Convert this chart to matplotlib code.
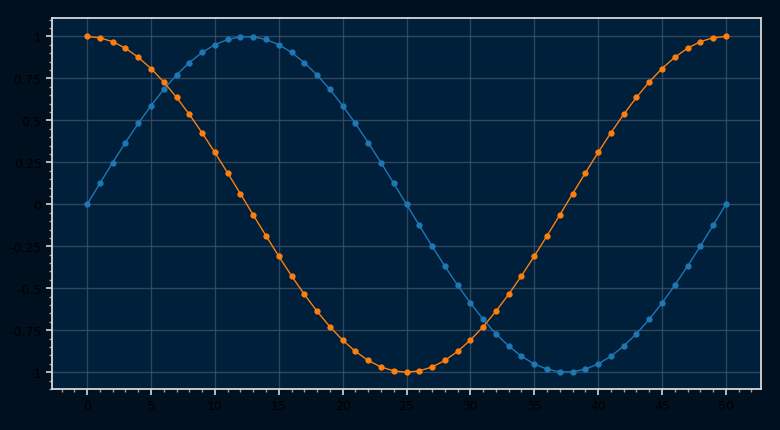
import numpy as np
import matplotlib
matplotlib.use("Agg")
import matplotlib.pyplot as plt
from matplotlib.ticker import MultipleLocator, FuncFormatter

# values (51 points per series)
xs = list(range(51))
blue_vals = [0.0, 0.125, 0.249, 0.368, 0.482, 0.588, 0.685, 0.771, 0.844, 0.905,
             0.951, 0.982, 0.998, 0.998, 0.982, 0.951, 0.905, 0.844, 0.771, 0.685,
             0.588, 0.482, 0.368, 0.249, 0.125, 0.0, -0.125, -0.249, -0.368, -0.482,
             -0.588, -0.685, -0.771, -0.844, -0.905, -0.951, -0.982, -0.998, -0.998, -0.982,
             -0.951, -0.905, -0.844, -0.771, -0.685, -0.588, -0.482, -0.368, -0.249, -0.125,
             0.0]
orange_vals = [1.0, 0.992, 0.969, 0.930, 0.876, 0.809, 0.729, 0.637, 0.536, 0.426,
               0.309, 0.187, 0.063, -0.063, -0.187, -0.309, -0.426, -0.536, -0.637, -0.729,
               -0.809, -0.876, -0.930, -0.969, -0.992, -1.0, -0.992, -0.969, -0.930, -0.876,
               -0.809, -0.729, -0.637, -0.536, -0.426, -0.309, -0.187, -0.063, 0.063, 0.187,
               0.309, 0.426, 0.536, 0.637, 0.729, 0.809, 0.876, 0.930, 0.969, 0.992,
               1.0]

plt.rcParams["axes.unicode_minus"] = False

fig = plt.figure(figsize=(7.8, 4.31), dpi=100, facecolor="#00101e")
ax = fig.add_axes([52/780, 1-390/431, (761-52)/780, (390-19)/431])
ax.set_facecolor("#001f3a")

ax.plot(xs, blue_vals, color="#1f77b4", lw=1, marker="o", ms=3.5, zorder=3)
ax.plot(xs, orange_vals, color="#ff7f0e", lw=1, marker="o", ms=3.5, zorder=3)

ax.set_xlim(-2.75, 52.75)
ax.set_ylim(-1.1, 1.11)

ax.xaxis.set_major_locator(MultipleLocator(5))
ax.xaxis.set_minor_locator(MultipleLocator(1))
ax.yaxis.set_major_locator(MultipleLocator(0.25))
ax.yaxis.set_minor_locator(MultipleLocator(0.05))
ax.yaxis.set_major_formatter(FuncFormatter(lambda v, p: "%g" % round(v, 2)))

ax.grid(True, which="major", color="#3a5068", lw=1, alpha=0.8)
ax.set_axisbelow(True)

for s in ax.spines.values():
    s.set_color("#d8d8d8")
    s.set_linewidth(1.3)

ax.tick_params(which="major", length=4, width=1.2, color="#d8d8d8", labelcolor="black", labelsize=9)
ax.tick_params(which="minor", length=2, width=1, color="#a0a0a0")

fig.savefig("out.png", dpi=100, facecolor=fig.get_facecolor())
